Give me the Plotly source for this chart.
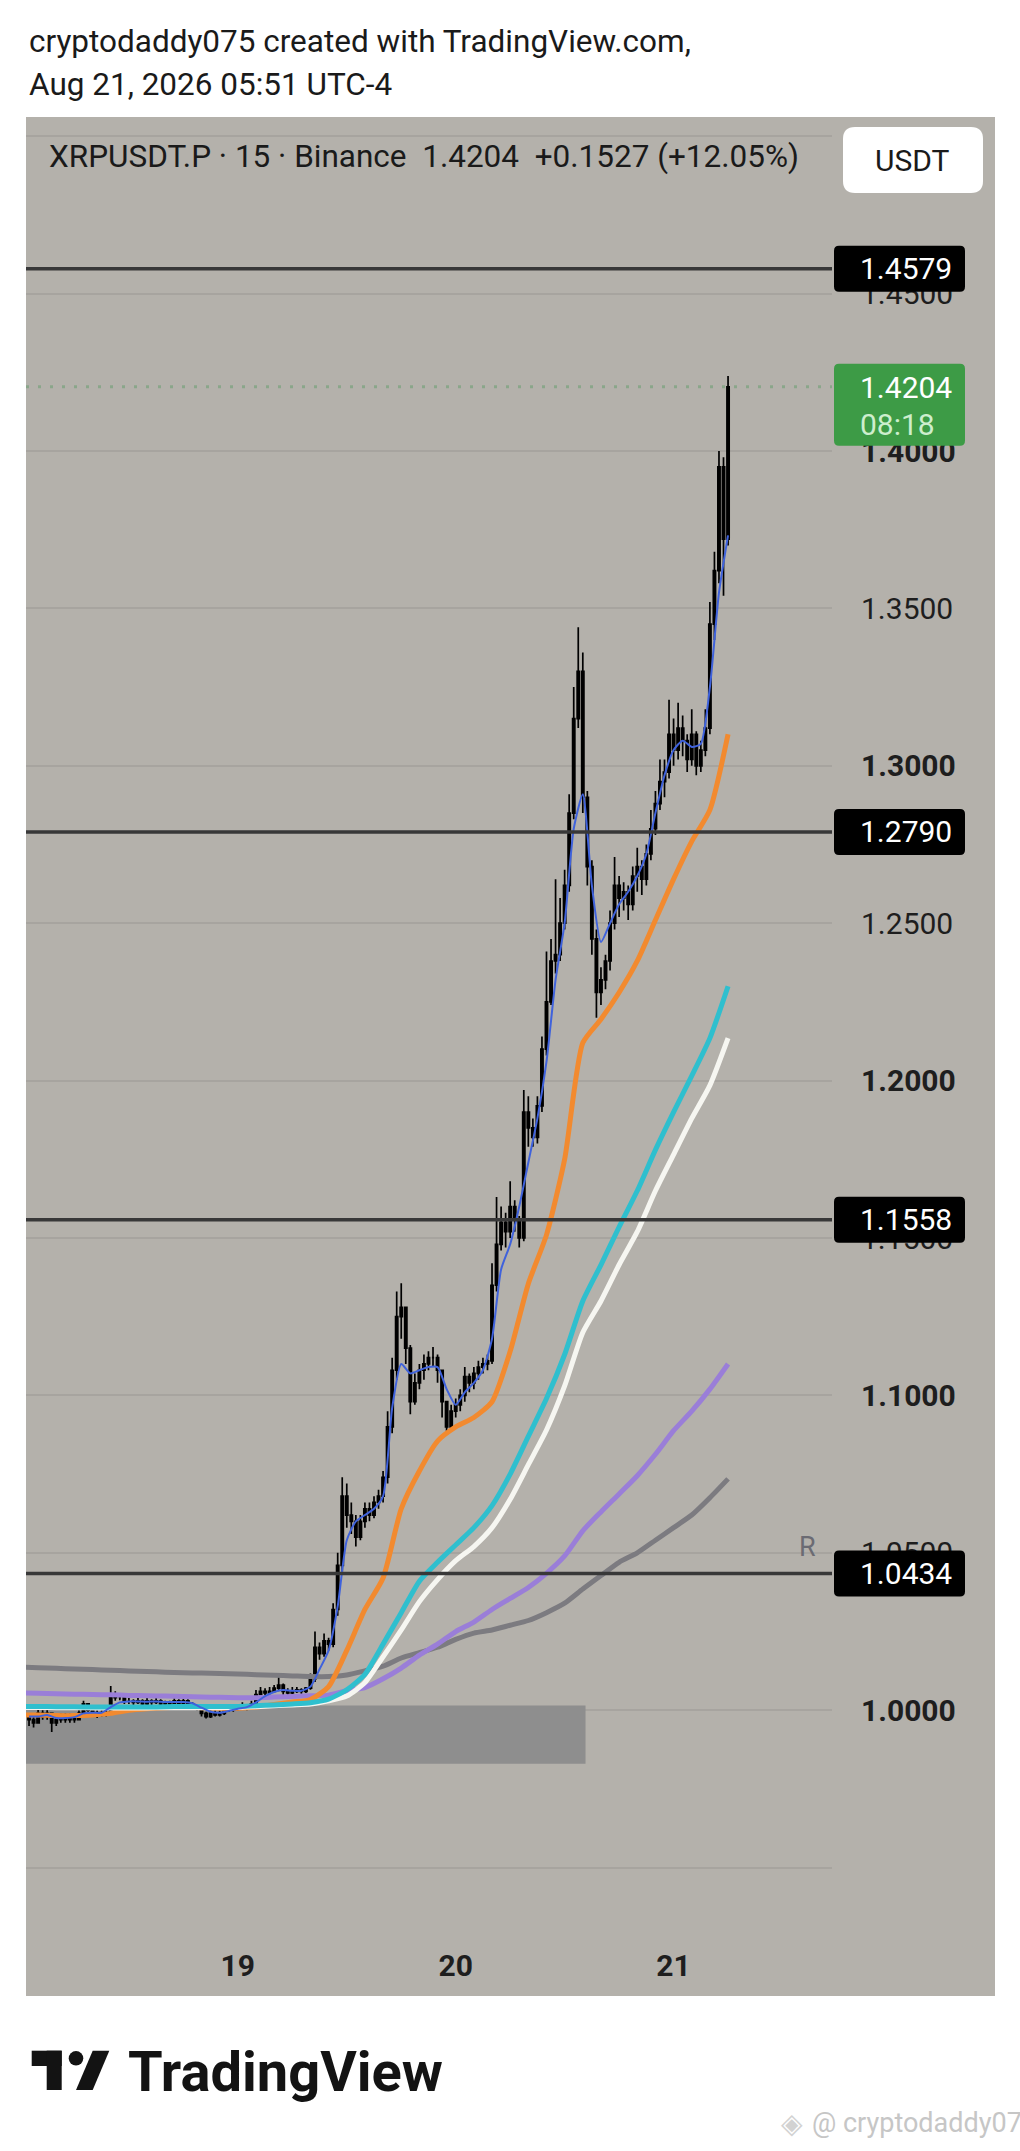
import pandas as pd
import plotly.graph_objects as go

# ---- data (XRPUSDT.P, Binance) ----
# candles, 30 min apart starting here
candle_start = "2026-08-18 01:00"
first_open = 0.998
candle_close = [
    0.997, 0.996, 0.999, 0.998, 0.999, 0.996, 0.997, 0.998, 0.997, 0.998,
    0.997, 0.999, 1.002, 1.000, 0.999, 0.9985, 0.999, 0.999, 1.005, 1.004,
    1.004, 1.003, 1.003, 1.0025, 1.003, 1.002, 1.003, 1.0025, 1.003, 1.002,
    1.0025, 1.002, 1.003, 1.002, 1.003, 1.002, 1.0015, 1.001, 0.999, 0.998,
    0.999, 0.9985, 0.999, 1.000, 1.001, 1.0005, 1.001, 1.0015, 1.001, 1.002,
    1.005, 1.006, 1.0055, 1.006, 1.007, 1.008, 1.006, 1.0055, 1.006, 1.0065,
    1.006, 1.007, 1.010, 1.020, 1.018, 1.022, 1.021, 1.032, 1.046, 1.068,
    1.062, 1.060, 1.055, 1.060, 1.064, 1.062, 1.066, 1.068, 1.074, 1.090,
    1.108, 1.125, 1.128, 1.115, 1.098, 1.104, 1.108, 1.110, 1.112, 1.112,
    1.108, 1.098, 1.090, 1.095, 1.097, 1.100, 1.106, 1.104, 1.107, 1.109,
    1.110, 1.111, 1.135, 1.148, 1.155, 1.152, 1.160, 1.156, 1.150, 1.190,
    1.185, 1.182, 1.192, 1.210, 1.225, 1.238, 1.240, 1.250, 1.262, 1.285,
    1.315, 1.330, 1.290, 1.268, 1.245, 1.228, 1.232, 1.238, 1.250, 1.262,
    1.258, 1.260, 1.256, 1.265, 1.268, 1.264, 1.272, 1.280, 1.288, 1.295,
    1.298, 1.310, 1.305, 1.312, 1.308, 1.302, 1.310, 1.300, 1.305, 1.312,
    1.345, 1.362, 1.395, 1.372, 1.4204,
]
candle_high = [
    0.999, 0.998, 1.0013, 1.000, 1.000, 0.999, 0.998, 0.999, 0.999, 0.999,
    0.999, 1.000, 1.003, 1.002, 1.001, 1.000, 1.000, 1.0005, 1.0077, 1.006,
    1.0053, 1.005, 1.004, 1.0035, 1.004, 1.0035, 1.004, 1.0035, 1.004, 1.0035,
    1.003, 1.003, 1.0038, 1.0035, 1.0038, 1.0035, 1.0025, 1.002, 1.0015, 0.9995,
    1.000, 1.000, 1.000, 1.001, 1.002, 1.0015, 1.002, 1.0025, 1.002, 1.003,
    1.0064, 1.0074, 1.007, 1.0074, 1.008, 1.0108, 1.0085, 1.007, 1.0074, 1.0074,
    1.007, 1.0074, 1.0117, 1.025, 1.0215, 1.0244, 1.023, 1.034, 1.050, 1.074,
    1.072, 1.066, 1.062, 1.062, 1.066, 1.066, 1.068, 1.070, 1.076, 1.095,
    1.112, 1.133, 1.1356, 1.128, 1.116, 1.107, 1.110, 1.113, 1.114, 1.1154,
    1.113, 1.108, 1.098, 1.097, 1.099, 1.102, 1.109, 1.107, 1.109, 1.111,
    1.112, 1.113, 1.142, 1.163, 1.160, 1.158, 1.168, 1.162, 1.157, 1.197,
    1.195, 1.188, 1.195, 1.214, 1.241, 1.245, 1.264, 1.258, 1.267, 1.291,
    1.325, 1.344, 1.336, 1.292, 1.270, 1.248, 1.236, 1.240, 1.254, 1.271,
    1.265, 1.263, 1.262, 1.268, 1.274, 1.270, 1.275, 1.286, 1.292, 1.302,
    1.302, 1.321, 1.315, 1.320, 1.316, 1.310, 1.318, 1.311, 1.308, 1.318,
    1.352, 1.368, 1.400, 1.398, 1.4238,
]
candle_low = [
    0.995, 0.9945, 0.996, 0.997, 0.997, 0.9931, 0.995, 0.996, 0.996, 0.996,
    0.996, 0.997, 0.9985, 0.9995, 0.998, 0.9975, 0.998, 0.998, 0.999, 1.003,
    1.0032, 1.002, 1.002, 1.001, 1.002, 1.001, 1.0015, 1.0015, 1.002, 1.001,
    1.0006, 1.001, 1.0015, 1.001, 1.0015, 1.001, 1.0006, 1.000, 0.998, 0.9974,
    0.9975, 0.998, 0.998, 0.9985, 0.9995, 0.9995, 1.000, 1.0005, 1.000, 1.0005,
    1.0015, 1.0048, 1.0048, 1.005, 1.0055, 1.006, 1.0048, 1.0048, 1.005, 1.0055,
    1.005, 1.0055, 1.0065, 1.009, 1.016, 1.017, 1.019, 1.020, 1.030, 1.044,
    1.058, 1.056, 1.052, 1.054, 1.058, 1.060, 1.061, 1.064, 1.066, 1.072,
    1.088, 1.105, 1.118, 1.110, 1.094, 1.097, 1.102, 1.105, 1.108, 1.109,
    1.104, 1.093, 1.088, 1.089, 1.093, 1.095, 1.098, 1.101, 1.102, 1.105,
    1.107, 1.108, 1.110, 1.133, 1.146, 1.147, 1.150, 1.152, 1.147, 1.149,
    1.179, 1.179, 1.180, 1.190, 1.208, 1.224, 1.234, 1.238, 1.248, 1.260,
    1.283, 1.312, 1.285, 1.262, 1.240, 1.220, 1.224, 1.229, 1.235, 1.248,
    1.252, 1.254, 1.251, 1.254, 1.260, 1.259, 1.262, 1.270, 1.278, 1.286,
    1.290, 1.296, 1.300, 1.302, 1.303, 1.298, 1.300, 1.297, 1.298, 1.303,
    1.310, 1.340, 1.358, 1.354, 1.370,
]

# fast average (thin blue), hourly
blue_start = "2026-08-18 01:00"
ma_blue = [
    0.998, 0.998, 0.9985, 0.9975, 0.9975, 0.9978, 0.999, 0.9992, 0.9992, 1.001,
    1.0025, 1.0028, 1.0028, 1.0027, 1.0028, 1.0026, 1.0026, 1.0026, 1.0022, 1.0008,
    0.9995, 0.9992, 0.9998, 1.0005, 1.001, 1.0025, 1.0045, 1.0058, 1.0064, 1.0062,
    1.0062, 1.0075, 1.013, 1.019, 1.033, 1.054, 1.060, 1.062, 1.064, 1.068,
    1.096, 1.110, 1.107, 1.108, 1.109, 1.109, 1.102, 1.097, 1.101, 1.104,
    1.108, 1.118, 1.140, 1.148, 1.160, 1.174, 1.188, 1.206, 1.232, 1.250,
    1.280, 1.291, 1.262, 1.244, 1.250, 1.256, 1.260, 1.265, 1.272, 1.285,
    1.297, 1.305, 1.308, 1.306, 1.307, 1.325, 1.355, 1.3732,
]

# slower averages, every 2 hours
ma_start = "2026-08-18 00:00"
ma_orange = [
    0.9985, 0.9985, 0.9983, 0.9983, 0.9985, 0.999, 1.000, 1.0005, 1.0008, 1.001,
    1.0008, 1.0006, 1.0006, 1.001, 1.0018, 1.0026, 1.0034, 1.0075, 1.019, 1.032,
    1.042, 1.064, 1.076, 1.0855, 1.090, 1.093, 1.098, 1.114, 1.1355, 1.151,
    1.175, 1.212, 1.2195, 1.228, 1.238, 1.251, 1.264, 1.276, 1.286, 1.310,
]
ma_cyan = [
    1.0012, 1.0012, 1.0011, 1.0011, 1.001, 1.001, 1.001, 1.001, 1.0011, 1.0012,
    1.0012, 1.0012, 1.0012, 1.0014, 1.0017, 1.002, 1.0024, 1.0035, 1.0065, 1.0114,
    1.021, 1.031, 1.041, 1.047, 1.0525, 1.058, 1.065, 1.075, 1.087, 1.099,
    1.113, 1.130, 1.1415, 1.1535, 1.165, 1.178, 1.190, 1.2015, 1.2135, 1.230,
]
ma_white = [
    1.0009, 1.0009, 1.0008, 1.0008, 1.0007, 1.0007, 1.0007, 1.0007, 1.0008, 1.0008,
    1.0008, 1.0008, 1.0009, 1.0011, 1.0014, 1.0017, 1.002, 1.003, 1.0045, 1.0088,
    1.017, 1.0255, 1.0345, 1.0415, 1.0475, 1.052, 1.058, 1.067, 1.078, 1.089,
    1.103, 1.12, 1.130, 1.1415, 1.152, 1.165, 1.1765, 1.188, 1.1985, 1.2135,
]
ma_purple = [
    1.0055, 1.0054, 1.0052, 1.0051, 1.005, 1.0049, 1.0047, 1.0046, 1.0045, 1.0044,
    1.0042, 1.0041, 1.004, 1.004, 1.0042, 1.0044, 1.0046, 1.0048, 1.0062, 1.0072,
    1.010, 1.0134, 1.0175, 1.021, 1.025, 1.028, 1.032, 1.0355, 1.039, 1.0435,
    1.049, 1.057, 1.063, 1.0687, 1.0745, 1.0813, 1.0888, 1.095, 1.102, 1.110,
]
ma_gray = [
    1.0137, 1.0135, 1.0133, 1.0131, 1.0129, 1.0127, 1.0125, 1.0123, 1.0121, 1.0119,
    1.0118, 1.0117, 1.0115, 1.0113, 1.0111, 1.0109, 1.0107, 1.0107, 1.0112, 1.0125,
    1.014, 1.0166, 1.0183, 1.020, 1.0225, 1.0245, 1.0255, 1.027, 1.0285, 1.031,
    1.034, 1.0385, 1.0428, 1.047, 1.050, 1.054, 1.058, 1.062, 1.0675, 1.0735,
]

levels = [1.4579, 1.2790, 1.1558, 1.0434]
last_price = 1.4204
countdown = "08:18"
zone_x = ["2026-08-17 12:00", "2026-08-20 14:18"]
zone_y = [0.983, 1.0015]

y_ticks = [0.95, 1.00, 1.05, 1.10, 1.15, 1.20, 1.25, 1.30, 1.35, 1.40, 1.45, 1.50]
y_labels = ["", "<b>1.0000</b>", "1.0500", "<b>1.1000</b>", "1.1500", "<b>1.2000</b>",
            "1.2500", "<b>1.3000</b>", "1.3500", "<b>1.4000</b>", "1.4500", ""]
day_ticks = ["2026-08-19", "2026-08-20", "2026-08-21"]
day_labels = ["<b>19</b>", "<b>20</b>", "<b>21</b>"]

# ---- geometry (pixels of the 1020x2151 page) ----
W, H = 1020, 2151
L, R, T, B = 26, 832, 117, 1935
Y0, Y1 = 0.9286, 1.5061
FONT = "Roboto"


def px(x):
    return (x - L) / (R - L)


def py(y):
    return (B - y) / (B - T)


def price_px(p):
    return B - (p - Y0) / (Y1 - Y0) * (B - T)


def rrect(x0, y0, x1, y1, r):
    a, b, c, d = px(x0), px(x1), py(y0), py(y1)
    ar, br = px(x0 + r), px(x1 - r)
    cr, dr = py(y0 + r), py(y1 - r)
    return (f"M {ar},{c} L {br},{c} Q {b},{c} {b},{cr} L {b},{dr} Q {b},{d} {br},{d} "
            f"L {ar},{d} Q {a},{d} {a},{dr} L {a},{cr} Q {a},{c} {ar},{c} Z")


candle_t = pd.date_range(candle_start, periods=len(candle_close), freq="30min")
blue_t = pd.date_range(blue_start, periods=len(ma_blue), freq="1h")
ma_t = pd.date_range(ma_start, periods=len(ma_orange), freq="2h")

opens = [first_open] + candle_close[:-1]
highs = [max(h, o, c) for h, o, c in zip(candle_high, opens, candle_close)]
lows = [min(l, o, c) for l, o, c in zip(candle_low, opens, candle_close)]

fig = go.Figure()

for vals, col in [(ma_gray, "#7c7b80"), (ma_purple, "#9a7ed8"), (ma_orange, "#f28a2f"),
                  (ma_white, "#f6f6f1"), (ma_cyan, "#2fbfce")]:
    fig.add_trace(go.Scatter(x=ma_t, y=vals, mode="lines", hoverinfo="skip",
                             line=dict(color=col, width=5, shape="spline", smoothing=0.6),
                             showlegend=False))

fig.add_trace(go.Candlestick(
    x=candle_t, open=opens, high=highs, low=lows, close=candle_close,
    increasing=dict(line=dict(color="black", width=1.7), fillcolor="black"),
    decreasing=dict(line=dict(color="black", width=1.7), fillcolor="black"),
    whiskerwidth=0, showlegend=False, hoverinfo="skip"))

fig.add_trace(go.Scatter(x=blue_t, y=ma_blue, mode="lines", hoverinfo="skip",
                         line=dict(color="#3f62dc", width=2, shape="spline", smoothing=0.6),
                         showlegend=False))

shapes = []
# chart panel
shapes.append(dict(type="rect", xref="paper", yref="paper", layer="below",
                   x0=px(26), x1=px(995), y0=py(1996), y1=py(117),
                   fillcolor="#b4b1ab", line=dict(width=0)))
# grey zone
shapes.append(dict(type="rect", xref="x", yref="y", layer="between",
                   x0=zone_x[0], x1=zone_x[1], y0=zone_y[0], y1=zone_y[1],
                   fillcolor="#8e8e8e", line=dict(width=0)))
# horizontal levels
for lv in levels:
    shapes.append(dict(type="line", xref="paper", yref="y", x0=0, x1=1, y0=lv, y1=lv,
                       line=dict(color="#383838", width=3.5)))
shapes.append(dict(type="line", xref="paper", yref="y", x0=0, x1=1,
                   y0=last_price, y1=last_price,
                   line=dict(color="#8aa68a", width=3, dash="3px,9px")))
# price label boxes
for lv in levels:
    yc = price_px(lv)
    shapes.append(dict(type="path", xref="paper", yref="paper", layer="above",
                       path=rrect(834, yc - 23, 965, yc + 23, 5),
                       fillcolor="black", line=dict(width=0)))
yc = price_px(last_price)
shapes.append(dict(type="path", xref="paper", yref="paper", layer="above",
                   path=rrect(834, yc - 23, 965, yc + 59, 5),
                   fillcolor="#3d9b46", line=dict(width=0)))
# USDT button
shapes.append(dict(type="path", xref="paper", yref="paper", layer="above",
                   path=rrect(843, 127, 983, 193, 12),
                   fillcolor="white", line=dict(width=0)))
# TradingView logo mark
shapes.append(dict(type="rect", xref="paper", yref="paper", x0=px(31.7), x1=px(61.7),
                   y0=py(2066), y1=py(2050.7), fillcolor="#131313", line=dict(width=0)))
shapes.append(dict(type="rect", xref="paper", yref="paper", x0=px(46.7), x1=px(61.7),
                   y0=py(2090), y1=py(2050.7), fillcolor="#131313", line=dict(width=0)))
shapes.append(dict(type="circle", xref="paper", yref="paper", x0=px(68.7), x1=px(83.3),
                   y0=py(2065.6), y1=py(2051), fillcolor="#131313", line=dict(width=0)))
shapes.append(dict(type="path", xref="paper", yref="paper",
                   path=(f"M {px(92.7)},{py(2050.7)} L {px(109.3)},{py(2050.7)} "
                         f"L {px(92.7)},{py(2090)} L {px(76)},{py(2090)} Z"),
                   fillcolor="#131313", line=dict(width=0)))


def note(text, x, y, size=31, color="#1a1a1a", anchor="left", **kw):
    return dict(text=text, xref="paper", yref="paper", x=px(x), y=py(y),
                xanchor=anchor, yanchor="middle", showarrow=False,
                font=dict(family=FONT, size=size, color=color), **kw)


ann = [
    note("cryptodaddy075 created with TradingView.com,", 27, 41, size=31.5),
    note("Aug 21, 2026 05:51 UTC-4", 27, 85, size=31.5),
    note("XRPUSDT.P · 15 · Binance\u00a0\u00a01.4204\u00a0\u00a0+0.1527 (+12.05%)", 47, 157, size=31.5),
    note("USDT", 913, 160, size=30, anchor="center"),
    note("R", 807, 1547, size=27, color="#6b6b73", anchor="center"),
    note("<b>TradingView</b>", 126, 2072, size=56, color="#131313"),
    note("◈", 792, 2123, size=28, color="#d2d2d2", anchor="center"),
    note("@ cryptodaddy07", 810, 2123, size=27, color="#c6c6c6"),
]
for lv in levels:
    ann.append(note(f"{lv:.4f}", 858, price_px(lv), size=30, color="white"))
ann.append(note(f"{last_price:.4f}", 858, price_px(last_price) + 1, size=30, color="white"))
ann.append(note(countdown, 858, price_px(last_price) + 38, size=30, color="#cdeecd"))

fig.update_layout(
    width=W, height=H, autosize=False,
    margin=dict(l=L, r=W - R, t=T, b=H - B, pad=0),
    paper_bgcolor="white", plot_bgcolor="rgba(0,0,0,0)",
    font=dict(family=FONT, color="#1e1e1e"),
    shapes=shapes, annotations=ann, showlegend=False,
    xaxis=dict(type="date", range=["2026-08-18 00:40", "2026-08-21 17:27"],
               rangeslider=dict(visible=False), showgrid=False, zeroline=False,
               showline=False, ticks="", tickvals=day_ticks, ticktext=day_labels,
               tickfont=dict(size=30, color="#1e1e1e"), ticklabelstandoff=10),
    yaxis=dict(side="right", range=[Y0, Y1], tickvals=y_ticks, ticktext=y_labels,
               showgrid=True, gridcolor="#a7a49f", gridwidth=1.5, zeroline=False,
               showline=False, ticks="", tickfont=dict(size=30, color="#1e1e1e"),
               ticklabelstandoff=28),
)

fig.write_html("out.html", config={"displayModeBar": False},
               post_script="document.body.style.margin='0';")
